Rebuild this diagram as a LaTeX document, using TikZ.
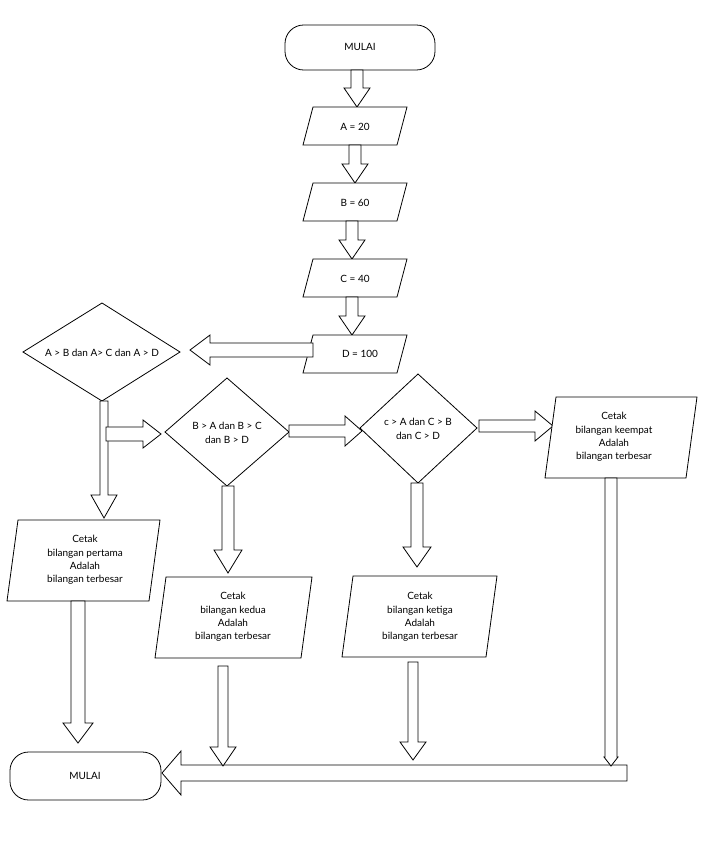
\documentclass[tikz,border=0pt]{standalone}
\usepackage{fontspec}
\setmainfont{Lato}
\begin{document}
\begin{tikzpicture}[x=0.75pt,y=-0.75pt,
  shp/.style={draw=black,line width=0.6pt,fill=white},
  txt/.style={font=\fontsize{7.5}{10}\selectfont,align=center,inner sep=0pt},
  ba/.style={draw=black,line width=0.6pt,fill=white,line join=miter}]
\useasboundingbox (0,0) rectangle (720,860);
% block arrow macros: x, y1, y2(tip), shaft half, head half, head length
\newcommand\bdown[6]{\draw[ba] (#1-#4,#2) -- (#1-#4,#3-#6) -- (#1-#5,#3-#6) -- (#1,#3) -- (#1+#5,#3-#6) -- (#1+#4,#3-#6) -- (#1+#4,#2) -- cycle;}
\newcommand\bright[6]{\draw[ba] (#2,#1-#4) -- (#3-#6,#1-#4) -- (#3-#6,#1-#5) -- (#3,#1) -- (#3-#6,#1+#5) -- (#3-#6,#1+#4) -- (#2,#1+#4) -- cycle;}
\newcommand\bleft[6]{\draw[ba] (#2,#1-#4) -- (#3+#6,#1-#4) -- (#3+#6,#1-#5) -- (#3,#1) -- (#3+#6,#1+#5) -- (#3+#6,#1+#4) -- (#2,#1+#4) -- cycle;}
\newcommand\para[5]{\draw[shp] (#1+#5,#3) -- (#2,#3) -- (#2-#5,#4) -- (#1,#4) -- cycle;}
% start
\draw[shp,rounded corners=14] (285,25) rectangle (435,70);
\node[txt] (start) at (360,47) {MULAI};
\bdown{357}{70}{107}{6}{13}{19}
\para{303}{407}{107}{145}{10}\node[txt] (a) at (355,127) {A = 20};
\bdown{355}{145}{183}{6}{13}{19}
\para{303}{407}{183}{221}{10}\node[txt] (b) at (355,203) {B = 60};
\bdown{352}{221}{259}{6}{13}{19}
\para{303}{407}{259}{297}{10}\node[txt] (c) at (355,279) {C = 40};
\bdown{352}{297}{335}{6}{13}{19}
\para{303}{407}{335}{373}{10}\node[txt] (d) at (360,354) {D = 100};
\bleft{350}{313}{190}{7}{15}{20}
% diamond 1
\draw[shp] (23,352) -- (102,303) -- (180,352) -- (102,401) -- cycle;
\node[txt] (q1) at (102,353) {A > B dan A> C dan A > D};
\bdown{104}{401}{518}{4}{13}{23}
\bright{434}{106}{161}{7}{14}{18}
% diamond 2
\draw[shp] (165,432) -- (227,378) -- (289,432) -- (227,486) -- cycle;
\node[txt] (q2) at (227,433) {B > A dan B > C\\dan B > D};
\bright{431}{289}{362}{6}{15}{17}
% diamond 3
\draw[shp] (360,428) -- (418,374) -- (477,428) -- (418,483) -- cycle;
\node[txt] (q3) at (418,429) {c > A dan C > B\\dan C > D};
\bright{426}{479}{553}{6}{15}{18}
% print 4
\para{545}{697}{397}{478}{11}
\node[txt] (p4) at (614,437) {Cetak\\bilangan keempat\\Adalah\\bilangan terbesar};
% print 1
\para{7}{160}{520}{601}{11}
\node[txt] (p1) at (85,560) {Cetak\\bilangan pertama\\Adalah\\bilangan terbesar};
\bdown{78}{601}{743}{7}{15}{20}
% print 2
\para{155}{312}{577}{658}{11}
\node[txt] (p2) at (233,617) {Cetak\\bilangan kedua\\Adalah\\bilangan terbesar};
\bdown{228}{486}{573}{6}{14}{23}
% print 3
\para{342}{497}{576}{657}{11}
\node[txt] (p3) at (420,617) {Cetak\\bilangan ketiga\\Adalah\\bilangan terbesar};
\bdown{417}{483}{567}{6}{14}{20}
% end
\draw[shp,rounded corners=14] (10,752) rectangle (161,800);
\node[txt] (end) at (85,776) {MULAI};
% bottom merging arrows
\bleft{773}{627}{162}{8}{22}{19}
\bdown{611}{478}{766}{6}{7}{9}
\bdown{223}{666}{766}{5}{13}{19}
\bdown{413}{662}{760}{5}{13}{18}
\end{tikzpicture}
\end{document}
